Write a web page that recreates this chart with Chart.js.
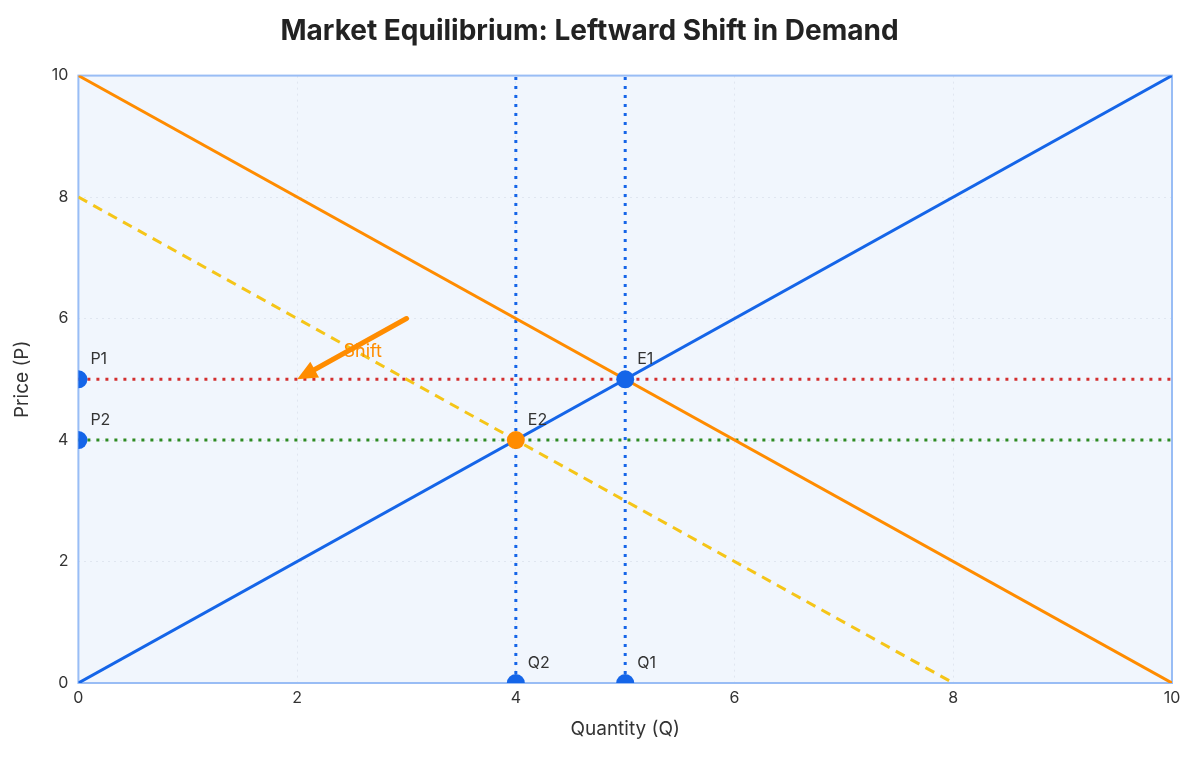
<!DOCTYPE html>
<html>
<head>
<meta charset="utf-8">
<script src="https://cdn.jsdelivr.net/npm/chart.js@4"></script>
<style>
  html, body { margin: 0; padding: 0; background: #fff; }
  #wrap { width: 1200px; height: 760px; }
</style>
</head>
<body>
<div id="wrap"><canvas id="chart" width="1200" height="760"></canvas></div>
<script>
// Curves (quantity, price)
const supplyQ = [0, 10];
const supplyP = [0, 10];
const demandQ = [0, 10];
const demandP = [10, 0];
const newDemandQ = [0, 8];
const newDemandP = [8, 0];

// Guide lines
const p1Line = [5, 5];       // price level P1 across 0..10
const p2Line = [4, 4];
const guideSpan = [0, 10];
const q1Line = [5, 5];
const q2Line = [4, 4];

// Marked points
const pointLabels = ['E1', 'E2', 'P1', 'P2', 'Q1', 'Q2'];
const pointQ = [5, 4, 0, 0, 5, 4];
const pointP = [5, 4, 5, 4, 0, 0];
const pointColors = ['#1565e8', '#ff8c00', '#1565e8', '#1565e8', '#1565e8', '#1565e8'];

// Shift arrow (from -> to) and its label
const arrowFrom = [3, 6];
const arrowTo = [2, 5];
const shiftLabel = 'Shift';
const shiftLabelAt = [2.6, 5.45];

const xTicks = [0, 2, 4, 6, 8, 10];
const yTicks = [0, 2, 4, 6, 8, 10];

const FONT = 'Inter, "Noto Sans", sans-serif';

function pairs(xs, ys) {
  return xs.map((x, i) => ({ x: x, y: ys[i] }));
}

function lineSet(label, data, color, dash, width) {
  return {
    label: label,
    data: data,
    showLine: true,
    borderColor: color,
    backgroundColor: color,
    borderWidth: width || 3,
    borderDash: dash || [],
    pointRadius: 0,
    pointHoverRadius: 0,
    clip: 0
  };
}

// plot area fill and frame
const bgPlugin = {
  id: 'plotBg',
  beforeDraw(chart) {
    const a = chart.chartArea;
    const ctx = chart.ctx;
    ctx.save();
    ctx.fillStyle = '#f1f6fd';
    ctx.fillRect(a.left, a.top, a.right - a.left, a.bottom - a.top);
    ctx.restore();
  },
  beforeDatasetsDraw(chart) {
    const a = chart.chartArea;
    const ctx = chart.ctx;
    ctx.save();
    ctx.setLineDash([]);
    ctx.strokeStyle = '#99bdf5';
    ctx.lineWidth = 2;
    ctx.strokeRect(a.left, a.top, a.right - a.left, a.bottom - a.top);
    ctx.restore();
  }
};

// text labels + arrow
const notesPlugin = {
  id: 'notes',
  afterDatasetsDraw(chart) {
    const xs = chart.scales.x, ys = chart.scales.y;
    const ctx = chart.ctx;
    ctx.save();

    // arrow
    const x0 = xs.getPixelForValue(arrowFrom[0]), y0 = ys.getPixelForValue(arrowFrom[1]);
    const x1 = xs.getPixelForValue(arrowTo[0]), y1 = ys.getPixelForValue(arrowTo[1]);
    const ang = Math.atan2(y1 - y0, x1 - x0);
    const head = 22;
    const bx = x1 - Math.cos(ang) * head * 0.8, by = y1 - Math.sin(ang) * head * 0.8;
    ctx.strokeStyle = '#ff8c00';
    ctx.fillStyle = '#ff8c00';
    ctx.lineWidth = 5;
    ctx.lineCap = 'round';
    ctx.beginPath();
    ctx.moveTo(x0, y0);
    ctx.lineTo(bx, by);
    ctx.stroke();
    ctx.beginPath();
    ctx.moveTo(x1, y1);
    ctx.lineTo(x1 - head * Math.cos(ang - 0.42), y1 - head * Math.sin(ang - 0.42));
    ctx.lineTo(x1 - head * Math.cos(ang + 0.42), y1 - head * Math.sin(ang + 0.42));
    ctx.closePath();
    ctx.fill();

    ctx.font = '18px ' + FONT;
    ctx.textAlign = 'center';
    ctx.textBaseline = 'middle';
    ctx.fillText(shiftLabel, xs.getPixelForValue(shiftLabelAt[0]), ys.getPixelForValue(shiftLabelAt[1]));

    // point labels
    ctx.fillStyle = '#333';
    ctx.font = '16px ' + FONT;
    ctx.textAlign = 'left';
    ctx.textBaseline = 'alphabetic';
    pointLabels.forEach((t, i) => {
      const px = xs.getPixelForValue(pointQ[i]);
      const py = ys.getPixelForValue(pointP[i]);
      ctx.fillText(t, px + 12, py - 15);
    });
    ctx.restore();
  }
};

// dataset 0 is painted last (on top) in Chart.js
new Chart(document.getElementById('chart'), {
  type: 'scatter',
  data: {
    datasets: [
      {
        label: 'Points',
        data: pairs(pointQ, pointP),
        pointRadius: 9,
        pointHoverRadius: 9,
        pointBackgroundColor: pointColors,
        pointBorderColor: pointColors,
        pointBorderWidth: 0,
        clip: 0
      },
      lineSet('Supply', pairs(supplyQ, supplyP), '#1565e8'),
      lineSet('Demand', pairs(demandQ, demandP), '#ff8c00'),
      lineSet('New Demand', pairs(newDemandQ, newDemandP), '#f5c518', [10, 7]),
      lineSet('Q1', pairs(q1Line, guideSpan), '#1565e8', [3, 6]),
      lineSet('Q2', pairs(q2Line, guideSpan), '#1565e8', [3, 6]),
      lineSet('P2', pairs(guideSpan, p2Line), '#2e8b22', [3, 6]),
      lineSet('P1', pairs(guideSpan, p1Line), '#d32f2f', [3, 6])
    ]
  },
  options: {
    responsive: false,
    animation: false,
    events: [],
    layout: { padding: { left: 7, right: 28, top: 9, bottom: 15 } },
    scales: {
      x: {
        type: 'linear',
        min: 0, max: 10,
        afterBuildTicks: (s) => { s.ticks = xTicks.map(v => ({ value: v })); },
        grid: { color: '#e0e6f0', lineWidth: 1, drawTicks: false },
        border: { display: false, dash: [2, 4] },
        ticks: { color: '#333', font: { family: FONT, size: 16 }, padding: 6 },
        title: { display: true, text: 'Quantity (Q)', color: '#333', font: { family: FONT, size: 19 }, padding: { top: 4 } }
      },
      y: {
        type: 'linear',
        min: 0, max: 10,
        afterBuildTicks: (s) => { s.ticks = yTicks.map(v => ({ value: v })); },
        grid: { color: '#e0e6f0', lineWidth: 1, drawTicks: false },
        border: { display: false, dash: [2, 4] },
        ticks: { color: '#333', font: { family: FONT, size: 16 }, padding: 10 },
        title: { display: true, text: 'Price (P)', color: '#333', font: { family: FONT, size: 19 }, padding: { bottom: 8 } }
      }
    },
    plugins: {
      legend: { display: false },
      tooltip: { enabled: false },
      title: {
        display: true,
        text: 'Market Equilibrium: Leftward Shift in Demand',
        color: '#222',
        font: { family: FONT, size: 28, weight: 'bold' },
        padding: { top: 6, bottom: 27 }
      }
    }
  },
  plugins: [bgPlugin, notesPlugin]
});
</script>
</body>
</html>
